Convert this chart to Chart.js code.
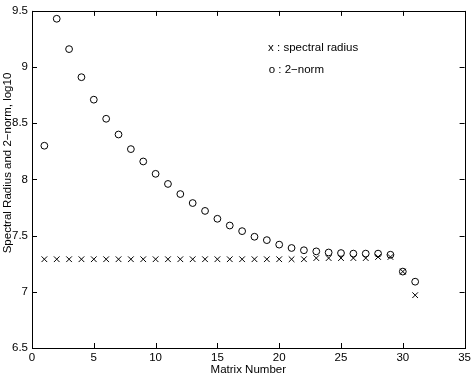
<!DOCTYPE html>
<html>
<head>
<meta charset="utf-8">
<script src="https://cdn.jsdelivr.net/npm/chart.js@4"></script>
<style>
  html, body { margin: 0; padding: 0; background: #fff; }
  #wrap { width: 474px; height: 374px; position: relative; }
</style>
</head>
<body>
<div id="wrap"><canvas id="specChart" width="474" height="374"></canvas></div>
<script>
// Matrix numbers along the x axis
const matrixNumber = [1, 2, 3, 4, 5, 6, 7, 8, 9, 10, 11, 12, 13, 14, 15, 16,
    17, 18, 19, 20, 21, 22, 23, 24, 25, 26, 27, 28, 29, 30, 31];

// log10 of the spectral radius (x markers)
const spectralRadius = [7.29, 7.29, 7.29, 7.29, 7.29, 7.29, 7.29, 7.29, 7.29, 7.29,
    7.29, 7.29, 7.29, 7.29, 7.29, 7.29, 7.29, 7.29, 7.29, 7.29, 7.29, 7.29,
    7.30, 7.30, 7.30, 7.30, 7.30, 7.31, 7.31, 7.18, 6.97];

// log10 of the 2-norm (o markers)
const twoNorm = [8.30, 9.43, 9.16, 8.91, 8.71, 8.54, 8.40, 8.27, 8.16, 8.05,
    7.96, 7.87, 7.79, 7.72, 7.65, 7.59, 7.54, 7.49, 7.46, 7.42, 7.39, 7.37,
    7.36, 7.35, 7.345, 7.34, 7.34, 7.34, 7.33, 7.18, 7.09];

// text notes inside the axes
const noteLabels = ["x : spectral radius", "o : 2\u2212norm"];
const yAxisTitle = "Spectral Radius and 2\u2212norm, log10";
const xAxisTitle = "Matrix Number";

const FONT = "'Liberation Sans', Arial, Helvetica, sans-serif";

function toPoints(ys) {
    return matrixNumber.map((x, i) => ({ x: x, y: ys[i] }));
}

// box around the axes, inward ticks on all sides, notes and y title
const matlabBox = {
    id: "matlabBox",
    afterDraw(chart) {
        const ctx = chart.ctx;
        const a = chart.chartArea;
        const xs = chart.scales.x;
        const ys = chart.scales.y;
        const len = 5;
        ctx.save();
        ctx.strokeStyle = "#000";
        ctx.lineWidth = 1;
        ctx.strokeRect(Math.round(a.left) + 0.5, Math.round(a.top) + 0.5,
            Math.round(a.right - a.left), Math.round(a.bottom - a.top));
        ctx.beginPath();
        xs.ticks.forEach(t => {
            const px = Math.round(xs.getPixelForValue(t.value)) + 0.5;
            ctx.moveTo(px, a.bottom); ctx.lineTo(px, a.bottom - len);
            ctx.moveTo(px, a.top); ctx.lineTo(px, a.top + len);
        });
        ys.ticks.forEach(t => {
            const py = Math.round(ys.getPixelForValue(t.value)) + 0.5;
            ctx.moveTo(a.left, py); ctx.lineTo(a.left + len, py);
            ctx.moveTo(a.right, py); ctx.lineTo(a.right - len, py);
        });
        ctx.stroke();

        ctx.fillStyle = "#000";
        ctx.font = "11.5px " + FONT;
        ctx.textBaseline = "middle";
        ctx.textAlign = "left";
        ctx.fillText(noteLabels[0], xs.getPixelForValue(19.1), ys.getPixelForValue(9.17));
        ctx.fillText(noteLabels[1], xs.getPixelForValue(19.15), ys.getPixelForValue(8.975));

        ctx.translate(8, 163);
        ctx.rotate(-Math.PI / 2);
        ctx.textAlign = "center";
        ctx.fillText(yAxisTitle, 0, 0);
        ctx.restore();
    }
};

const ctx = document.getElementById("specChart").getContext("2d");
const chart = new Chart(ctx, {
    type: "scatter",
    data: {
        datasets: [
            {
                label: "spectral radius",
                data: toPoints(spectralRadius),
                pointStyle: "crossRot",
                pointRadius: 4,
                borderColor: "#000",
                borderWidth: 1,
                showLine: false,
            },
            {
                label: "2-norm",
                data: toPoints(twoNorm),
                pointStyle: "circle",
                pointRadius: 3.4,
                borderColor: "#000",
                backgroundColor: "rgba(0,0,0,0)",
                borderWidth: 1,
                showLine: false,
            },
        ],
    },
    options: {
        responsive: false,
        animation: false,
        layout: { padding: { top: 5, right: 7, left: 0, bottom: 0 } },
        plugins: {
            legend: { display: false },
            tooltip: { enabled: false },
        },
        scales: {
            x: {
                type: "linear",
                min: 0,
                max: 35,
                ticks: { stepSize: 5, color: "#000", padding: 3, maxRotation: 0,
                    font: { family: FONT, size: 11.5 } },
                grid: { display: false, drawTicks: false },
                border: { display: false },
                title: {
                    display: true,
                    text: xAxisTitle,
                    color: "#000",
                    font: { family: FONT, size: 11.5 },
                    padding: { top: 0, bottom: -3 },
                },
                afterFit(scale) { scale.height = 26; },
            },
            y: {
                min: 6.5,
                max: 9.5,
                ticks: { stepSize: 0.5, color: "#000", padding: 4,
                    font: { family: FONT, size: 11.5 },
                    callback: (v) => String(Math.round(v * 10) / 10) },
                grid: { display: false, drawTicks: false },
                border: { display: false },
                afterFit(scale) { scale.width = 32; },
            },
        },
    },
    plugins: [matlabBox],
});
</script>
</body>
</html>
